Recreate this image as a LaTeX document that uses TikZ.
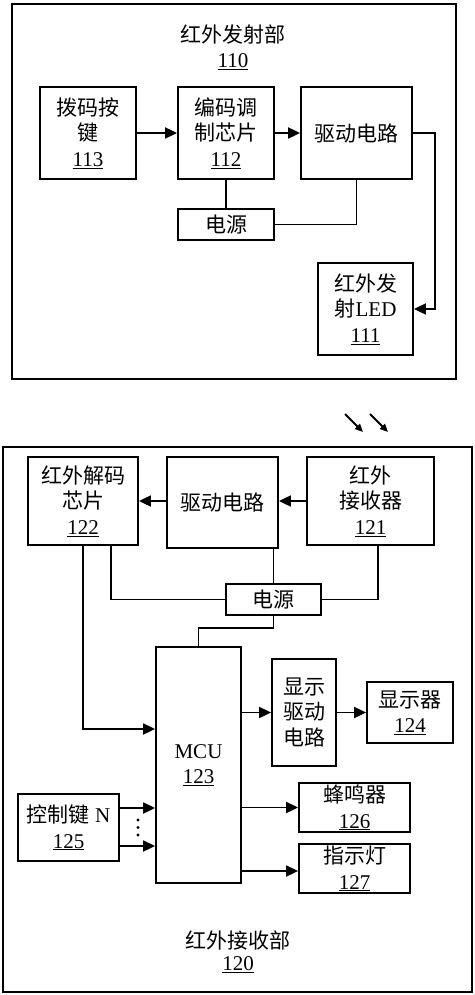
\documentclass[tikz,border=0pt]{standalone}
\usepackage{fontspec}
\setmainfont{Liberation Serif}
\newfontfamily\cjk{Noto Sans CJK SC}
\newcommand\zh[1]{{\cjk #1}}
\usetikzlibrary{arrows.meta}
\begin{document}
\begin{tikzpicture}[x=1pt,y=-1pt,line width=1.8pt,
  box/.style={draw,line width=1.8pt,align=center,inner sep=0pt,font=\fontsize{21}{25.5}\selectfont},
  lbl/.style={inner sep=0pt,font=\fontsize{21}{25.5}\selectfont},
  arr/.style={-{Triangle[length=12pt,width=11pt]}},
  sarr/.style={line width=1.8pt,-{Triangle[length=8pt,width=7pt]}}]
\useasboundingbox (0,0) rectangle (474,995);
% ---------- transmitter ----------
\node[box,minimum width=444,minimum height=375] (tx) at (234,191.5) {};
\node[lbl] (txt) at (233,35) {\zh{红外发射部}};
\node[lbl] (txn) at (233,62) {\underline{110}};
\node[box,minimum width=96,minimum height=92] (k113) at (88,133) {\zh{拨码按}\\\zh{键}\\\underline{113}};
\node[box,minimum width=96,minimum height=92] (k112) at (226,133) {\zh{编码调}\\\zh{制芯片}\\\underline{112}};
\node[box,minimum width=111,minimum height=92] (drv1) at (356.5,133) {\zh{驱动电路}};
\node[box,minimum width=96,minimum height=31] (pw1) at (226,224.5) {\zh{电源}};
\node[box,minimum width=95,minimum height=92] (led) at (365.5,309) {\zh{红外发}\\\zh{射}LED\\\underline{111}};
\draw[arr] (k113) -- (k112);
\draw[arr] (k112) -- (drv1);
\draw[arr] (drv1.east) -- ++(22,0) |- (led.east);
\draw (k112) -- (pw1);
\draw (drv1.south) |- (pw1.east);
% ---------- IR rays ----------
\coordinate (r1a) at (345,414); \coordinate (r1b) at (363,432);
\coordinate (r2a) at (370,414); \coordinate (r2b) at (388,432);
\draw[sarr] (r1a) -- (r1b);
\draw[sarr] (r2a) -- (r2b);
% ---------- receiver ----------
\node[box,minimum width=469,minimum height=545] (rx) at (237.5,719.5) {};
\node[box,minimum width=110,minimum height=88] (d122) at (83,501) {\zh{红外解码}\\\zh{芯片}\\\underline{122}};
\node[box,minimum width=111,minimum height=91] (drv2) at (222.5,502.5) {\zh{驱动电路}};
\node[box,minimum width=127,minimum height=88] (r121) at (370.5,501) {\zh{红外}\\\zh{接收器}\\\underline{121}};
\node[box,minimum width=95,minimum height=31] (pw2) at (273.5,599.5) {\zh{电源}};
\node[box,minimum width=85,minimum height=236] (mcu) at (198.5,765) {MCU\\\underline{123}};
\node[box,minimum width=64,minimum height=107] (dd) at (304,712.5) {\zh{显示}\\\zh{驱动}\\\zh{电路}};
\node[box,minimum width=86,minimum height=61] (disp) at (410,712.5) {\zh{显示器}\\\underline{124}};
\node[box,minimum width=101,minimum height=67] (ctl) at (68.5,827.5) {\zh{控制键} N\\\underline{125}};
\node[box,minimum width=111,minimum height=49] (buz) at (354.5,807.5) {\zh{蜂鸣器}\\\underline{126}};
\node[box,minimum width=111,minimum height=49] (ind) at (354.5,868.5) {\zh{指示灯}\\\underline{127}};
\node[lbl] (rxt) at (238,940) {\zh{红外接收部}};
\node[lbl] (rxn) at (238,965) {\underline{120}};
\draw[arr] (r121.west) -- (drv2.east |- r121.west);
\draw[arr] (drv2.west |- d122.east) -- (d122.east);
\draw ([xshift=28pt]d122.south) |- (pw2.west);
\draw (pw2.north) -- (pw2.north |- drv2.south);
\draw ([xshift=7.5pt]r121.south) |- (pw2.east);
\draw (pw2.south) -- ++(0,12) -| (mcu.north);
\draw[arr] (d122.south) |- ([yshift=36pt]mcu.west);
\draw[arr] (mcu.east |- dd.west) -- (dd.west);
\draw[arr] (dd.east) -- (disp.west);
\coordinate (c1) at ([yshift=19.5pt]ctl.east);
\coordinate (c2) at ([yshift=-18.5pt]ctl.east);
\draw[arr] (c1) -- (c1 -| mcu.west);
\draw[arr] (c2) -- (c2 -| mcu.west);
\fill (138,820) circle (1.7) (138,827.5) circle (1.7) (138,835) circle (1.7);
\draw[arr] (mcu.east |- buz.west) -- (buz.west);
\coordinate (c3) at ([yshift=-2.5pt]ind.west);
\draw[arr] (c3 -| mcu.east) -- (c3);
\end{tikzpicture}
\end{document}
